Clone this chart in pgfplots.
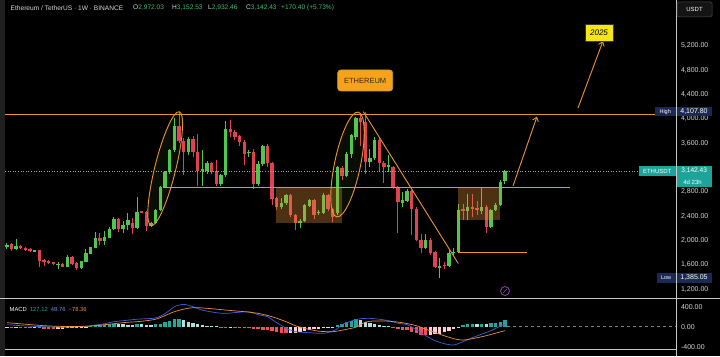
\documentclass[border=0pt]{standalone}
\usepackage{pgfplots}
\usepackage{pgfplotstable}
\pgfplotsset{compat=1.18}
\usepackage{fontspec}
\setmainfont{Liberation Sans}
\usetikzlibrary{arrows.meta}
\definecolor{cgreen}{HTML}{4CC850}
\definecolor{cred}{HTML}{E0434F}
\definecolor{annot}{HTML}{E8953A}
\definecolor{tealc}{HTML}{26A69A}
\definecolor{lteal}{HTML}{B2DFDB}
\definecolor{redh}{HTML}{F0505A}
\definecolor{pinkh}{HTML}{FFCDD2}
\definecolor{macdblue}{HTML}{3F5FD8}
\definecolor{sigorange}{HTML}{E8904A}
\definecolor{navy}{HTML}{1B2A55}
\definecolor{tagteal}{HTML}{1CA39A}
\definecolor{axgray}{HTML}{C8C8C8}
\definecolor{txt}{HTML}{D8D8D8}
\definecolor{hdrgreen}{HTML}{3FBF6F}
\definecolor{ethborder}{HTML}{C8A030}
\definecolor{ethfill}{HTML}{F7A21B}
\definecolor{ethtext}{HTML}{3B2A10}
\definecolor{yel}{HTML}{F5E418}
\definecolor{purp}{HTML}{8E44AD}

\pgfplotstableread{
i o h l c
0 1889 1955 1856 1927
2 1856 2020 1845 1911
6 1820 1850 1810 1840
11 1605 1655 1530 1617
13 1571 1760 1560 1735
16 1545 1670 1535 1659
17 1655 1856 1650 1791
18 1780 1900 1775 1889
19 1883 2140 1875 2042
21 1998 2150 1927 2054
22 2047 2218 2040 2185
23 2185 2392 2175 2355
25 2185 2326 2120 2261
26 2256 2460 2173 2338
28 2201 2720 2190 2474
31 2239 2310 2220 2293
32 2285 2515 2270 2502
33 2502 2890 2490 2875
34 2875 3150 2860 3131
35 3131 3500 3100 3487
36 3487 4008 3450 3881
39 3459 3700 3400 3663
42 3150 3487 2896 3170
43 3147 3300 3100 3269
46 2929 3100 2900 3077
47 3077 3968 3050 3827
52 3433 3480 3380 3459
54 2929 3300 2900 3257
55 3257 3570 3230 3553
59 2546 2700 2520 2612
60 2612 2760 2580 2748
63 2293 2350 2200 2326
64 2326 2600 2310 2584
65 2568 2690 2550 2666
67 2448 2500 2420 2474
68 2458 2780 2440 2748
71 2460 3220 2420 3200
73 3060 3450 3040 3420
74 3420 3750 3350 3733
75 3705 4034 3650 4008
78 3285 3500 3200 3361
79 3361 3700 3330 3651
82 3213 3400 3120 3240
85 2612 2800 2556 2666
86 2650 2850 2630 2814
90 1883 2100 1860 2009
93 1554 1714 1385 1587
95 1587 1850 1570 1791
96 1791 1870 1760 1817
97 1810 2600 1790 2510
99 2486 2760 2340 2556
102 2480 2884 2440 2556
104 2228 2520 2200 2502
105 2502 2620 2480 2584
106 2584 3000 2560 2967
107 2972.03 3152.53 2932.46 3142.43
}\greentab

\pgfplotstableread{
i o h l c
1 1939 1965 1829 1856
3 1911 1925 1856 1873
4 1883 1895 1835 1845
5 1866 1875 1815 1823
7 1840 1850 1561 1669
8 1681 1690 1582 1648
9 1665 1675 1615 1627
10 1643 1655 1600 1610
12 1620 1630 1560 1571
14 1735 1745 1605 1615
15 1637 1650 1517 1545
20 2037 2120 1927 1998
24 2355 2370 2146 2185
27 2293 2370 2110 2201
29 2475 2490 2450 2460
30 2464 2480 2162 2244
37 3881 4095 3600 3640
38 3640 3680 3077 3459
40 3663 3720 3380 3459
41 3459 3750 2896 3147
44 3269 3290 3100 3131
45 3147 3323 2896 2929
48 3827 3980 3700 3788
49 3788 3820 3650 3705
50 3717 3740 3560 3623
51 3623 3650 3240 3421
53 3459 3500 2842 2929
56 3553 3590 3200 3269
57 3269 3290 2584 2678
58 2694 2720 2510 2546
61 2748 2770 2380 2420
62 2420 2440 2173 2293
66 2666 2680 2350 2420
69 2748 2760 2490 2513
70 2513 2530 2310 2392
72 3187 3220 3000 3060
76 4008 4090 3550 3942
77 3952 4107 3100 3295
80 3651 3700 3150 3269
81 3269 3300 2945 3213
83 3213 3230 2850 2884
84 2884 2900 2129 2628
87 2814 2830 2091 2518
88 2518 2550 1990 2009
89 2009 2100 1800 1883
91 2009 2050 1760 1791
92 1817 1830 1545 1571
94 1600 1650 1540 1580
98 2518 2600 2340 2486
100 2556 2760 2380 2518
101 2540 2650 2420 2510
103 2556 2580 2120 2228
}\redtab

\pgfplotsset{
  tvaxis/.style={
    scale only axis, anchor=south west,
    xmin=-1.461, xmax=143.76,
    axis line style={draw=none}, tick style={draw=none},
    xtick=\empty, yticklabel pos=right,
    y tick label style={font=\fontsize{7}{8}\selectfont, text=txt, anchor=west, xshift=1.5pt},
    /pgf/number format/fixed, /pgf/number format/fixed zerofill,
    /pgf/number format/precision=2, /pgf/number format/1000 sep={,},
    /pgf/number format/assume math mode=true
  },
}

\begin{document}
\begin{tikzpicture}[x=1pt,y=1pt]
\useasboundingbox (0,0) rectangle (720,356);
\fill[black] (0,0) rectangle (720,356);
\fill[black!88!white] (0,0) rectangle (5,356);

% ---------- price panel ----------
\begin{axis}[tvaxis, at={(0pt,59pt)}, width=676pt, height=297pt,
  ymin=1073.3, ymax=5950.3,
  ytick={1200,1600,2000,2400,2800,3600,4000,4400,4800,5200}]
% wicks
\addplot[cgreen, line width=0.9pt, mark=none, forget plot, quiver={u=0, v=\thisrow{h}-\thisrow{l}}] table[x=i, y=l] {\greentab};
\addplot[cred, line width=0.9pt, mark=none, forget plot, quiver={u=0, v=\thisrow{h}-\thisrow{l}}] table[x=i, y=l] {\redtab};
% bodies
\addplot[cgreen, line width=3.4pt, mark=none, forget plot, quiver={u=0, v={max(\thisrow{c}-\thisrow{o},18)}}] table[x=i, y=o] {\greentab};
\addplot[cred, line width=3.4pt, mark=none, forget plot, quiver={u=0, v={max(\thisrow{o}-\thisrow{c},18)}}] table[x=i, y=c] {\redtab};
\end{axis}

% ---------- MACD panel ----------
\begin{axis}[tvaxis, at={(0pt,7pt)}, width=676pt, height=50.5pt,
  ymin=-446, ymax=564, ytick={-400,0,400}]
\addplot[gray, dashed, line width=0.5pt, forget plot] coordinates {(107.5,0) (143.7,0)};
\addplot[ycomb, line width=3.4pt, color=tealc, mark=none] coordinates {(18,10)(19,25)(20,35)(21,40)(22,45)(23,50)(28,45)(32,45)(33,60)(34,90)(35,120)(36,145)(37,150)(71,30)(72,60)(73,90)(74,120)(75,150)(98,30)(99,55)(100,60)(102,60)(104,65)(105,80)(106,100)(107,127.12)};
\addplot[ycomb, line width=3.4pt, color=lteal, mark=none] coordinates {(24,48)(25,45)(26,42)(27,40)(29,45)(30,40)(31,38)(38,130)(39,100)(40,80)(41,50)(42,30)(43,20)(44,10)(45,5)(76,140)(77,100)(78,70)(79,50)(80,35)(81,20)(82,10)(101,55)(103,50)};
\addplot[ycomb, line width=3.4pt, color=redh, mark=none] coordinates {(1,-15)(3,-15)(4,-20)(5,-25)(7,-35)(8,-45)(9,-50)(10,-52)(46,-5)(47,-10)(49,-12)(50,-15)(51,-20)(52,-25)(53,-45)(54,-55)(55,-60)(56,-75)(57,-95)(58,-110)(59,-125)(60,-130)(83,-20)(84,-50)(85,-60)(86,-70)(87,-100)(88,-130)(89,-160)(90,-170)};
\addplot[ycomb, line width=3.4pt, color=pinkh, mark=none] coordinates {(0,-10)(2,-10)(6,-25)(11,-50)(12,-45)(13,-35)(14,-30)(15,-25)(16,-15)(17,-5)(48,-8)(61,-125)(62,-120)(63,-100)(64,-85)(65,-70)(66,-55)(67,-45)(68,-35)(69,-25)(70,-10)(91,-165)(92,-150)(93,-140)(94,-110)(95,-80)(96,-50)(97,-20)};
\addplot[macdblue, line width=0.7pt, mark=none, smooth, tension=0.4] coordinates {(0,40)(4,15)(8,0)(12,-10)(16,0)(18,20)(21,60)(23,100)(26,130)(28,150)(30,160)(32,175)(34,260)(36,400)(38,447)(40,400)(42,330)(45,280)(47,267)(50,290)(52,300)(54,240)(56,200)(58,80)(60,-30)(62,-100)(65,-120)(68,-133)(70,-90)(71,-40)(72,40)(74,113)(76,160)(78,167)(80,150)(82,120)(84,70)(86,40)(88,-60)(90,-180)(92,-280)(94,-340)(96,-367)(98,-300)(100,-220)(102,-150)(104,-80)(106,10)(107,48.76)};
\addplot[sigorange, line width=0.7pt, mark=none, smooth, tension=0.4] coordinates {(0,80)(4,50)(8,20)(12,5)(16,5)(18,13)(22,50)(26,90)(28,100)(32,150)(36,300)(39,370)(41,380)(44,360)(47,333)(51,300)(54,267)(57,200)(60,100)(62,20)(64,-33)(67,-90)(70,-100)(72,-70)(75,-10)(77,90)(79,115)(82,110)(85,80)(88,20)(90,-50)(93,-150)(96,-240)(98,-267)(100,-240)(103,-180)(107,-78.36)};
\end{axis}

% ---------- frame lines ----------
\draw[axgray, line width=0.8pt] (0,58) -- (720,58);
\draw[axgray, line width=0.8pt] (5,6.7) -- (676,6.7);
\draw[axgray, line width=0.8pt] (676,0) -- (676,356);

% ---------- annotations ----------
\draw[gray!70, dotted, line width=0.6pt] (5,185) -- (640,185);
\fill[annot, opacity=0.33] (276,132.7) rectangle (341.7,168.3);
\fill[annot, opacity=0.33] (457.7,136) rectangle (500,169.3);
\draw[annot, line width=0.9pt] (5,241.5) -- (676,241.5);
\draw[annot, line width=0.9pt] (163,168.7) -- (570,168.7);
\draw[annot, line width=0.9pt] (363.3,244.3) -- (458.3,92.5);
\draw[annot, line width=0.9pt] (458.3,103.7) -- (527.3,103.7);
\draw[annot, line width=0.9pt, -{Straight Barb[length=4pt,width=6pt]}] (513,170) -- (537,239.5);
\draw[annot, line width=0.9pt, -{Straight Barb[length=4pt,width=6pt]}] (578,248) -- (603,315);
\draw[annot, line width=0.9pt, fill=yellow!60!green, fill opacity=0.07, rotate around={76.1:(165.2,187.3)}] (165.2,187.3) ellipse (58.7 and 10.5);
\draw[annot, line width=0.9pt, fill=yellow!60!green, fill opacity=0.07, rotate around={78.3:(347.5,191.5)}] (347.5,191.5) ellipse (53.5 and 13);

% labels
\draw[draw=ethborder, fill=ethfill, rounded corners=3pt, line width=0.6pt] (337.7,265) rectangle (392.7,286);
\node[text=ethtext, font=\fontsize{7.5}{8}\selectfont, inner sep=0pt] at (365.2,275.5) {ETHEREUM};
\draw[fill=yel, draw=black!80, line width=0.6pt] (585,315) rectangle (613,332);
\node[font=\fontsize{8}{9}\selectfont\itshape, text=black, inner sep=0pt] at (599,323.5) {2025};

\draw[purp, line width=0.8pt] (505,65) circle (4.5);
\draw[purp, line width=0.6pt] (503,63) -- (507,67);

% ---------- price tags ----------
\fill[navy] (655,240) rectangle (675.5,248.7);
\node[text=white, font=\fontsize{5.5}{6}\selectfont, inner sep=0pt] at (665.2,244.35) {High};
\fill[navy] (676.5,240) rectangle (711.5,248.7);
\node[text=white, font=\fontsize{7}{8}\selectfont, inner sep=0pt] at (694,244.35) {4,107.80};

\fill[tagteal] (639,179.7) rectangle (675.5,189.7);
\node[text=white, font=\fontsize{6}{7}\selectfont, inner sep=0pt] at (657.2,184.7) {ETHUSDT};
\fill[tagteal] (676.5,169) rectangle (712,190);
\node[text=white, font=\fontsize{6.6}{7}\selectfont, inner sep=0pt] at (694.2,185.3) {3,142.43};
\node[text=white, font=\fontsize{6}{6.5}\selectfont, inner sep=0pt] at (692.5,173.6) {4d 23h};

\fill[navy] (656.7,73.3) rectangle (675.5,83);
\node[text=white, font=\fontsize{5.5}{6}\selectfont, inner sep=0pt] at (666.1,78.15) {Low};
\fill[navy] (676.5,73.3) rectangle (711.5,83);
\node[text=white, font=\fontsize{7}{8}\selectfont, inner sep=0pt] at (694,78.15) {1,385.05};

\draw[fill=black!92!white, draw=black!70!white, rounded corners=1.5pt, line width=0.5pt] (677,339) rectangle (712,354);
\node[text=white, font=\fontsize{6}{7}\selectfont, inner sep=0pt] at (694.5,346.5) {USDT};

% ---------- header ----------
\node[anchor=west, text=txt, font=\fontsize{6.6}{7}\selectfont, inner sep=0pt] at (10.5,348) {Ethereum / TetherUS · 1W · BINANCE};
\node[anchor=west, font=\fontsize{6.6}{7}\selectfont, inner sep=0pt] at (133,348) {\textcolor{txt}{O}\textcolor{hdrgreen}{2,972.03}};
\node[anchor=west, font=\fontsize{6.6}{7}\selectfont, inner sep=0pt] at (172,348) {\textcolor{txt}{H}\textcolor{hdrgreen}{3,152.53}};
\node[anchor=west, font=\fontsize{6.6}{7}\selectfont, inner sep=0pt] at (208,348) {\textcolor{txt}{L}\textcolor{hdrgreen}{2,932.46}};
\node[anchor=west, font=\fontsize{6.6}{7}\selectfont, inner sep=0pt] at (246,348) {\textcolor{txt}{C}\textcolor{hdrgreen}{3,142.43}};
\node[anchor=west, font=\fontsize{6.6}{7}\selectfont, inner sep=0pt, text=hdrgreen] at (281,348) {+170.40 (+5.73\%)};

% MACD legend
\node[anchor=west, font=\fontsize{5.8}{7}\selectfont, inner sep=0pt] at (9.5,46.5) {\textcolor{white}{MACD}\ \ \textcolor{tealc}{127.12}\ \ \textcolor{macdblue!70!white}{48.76}\ \ \textcolor{sigorange}{−78.36}};
\end{tikzpicture}
\end{document}
